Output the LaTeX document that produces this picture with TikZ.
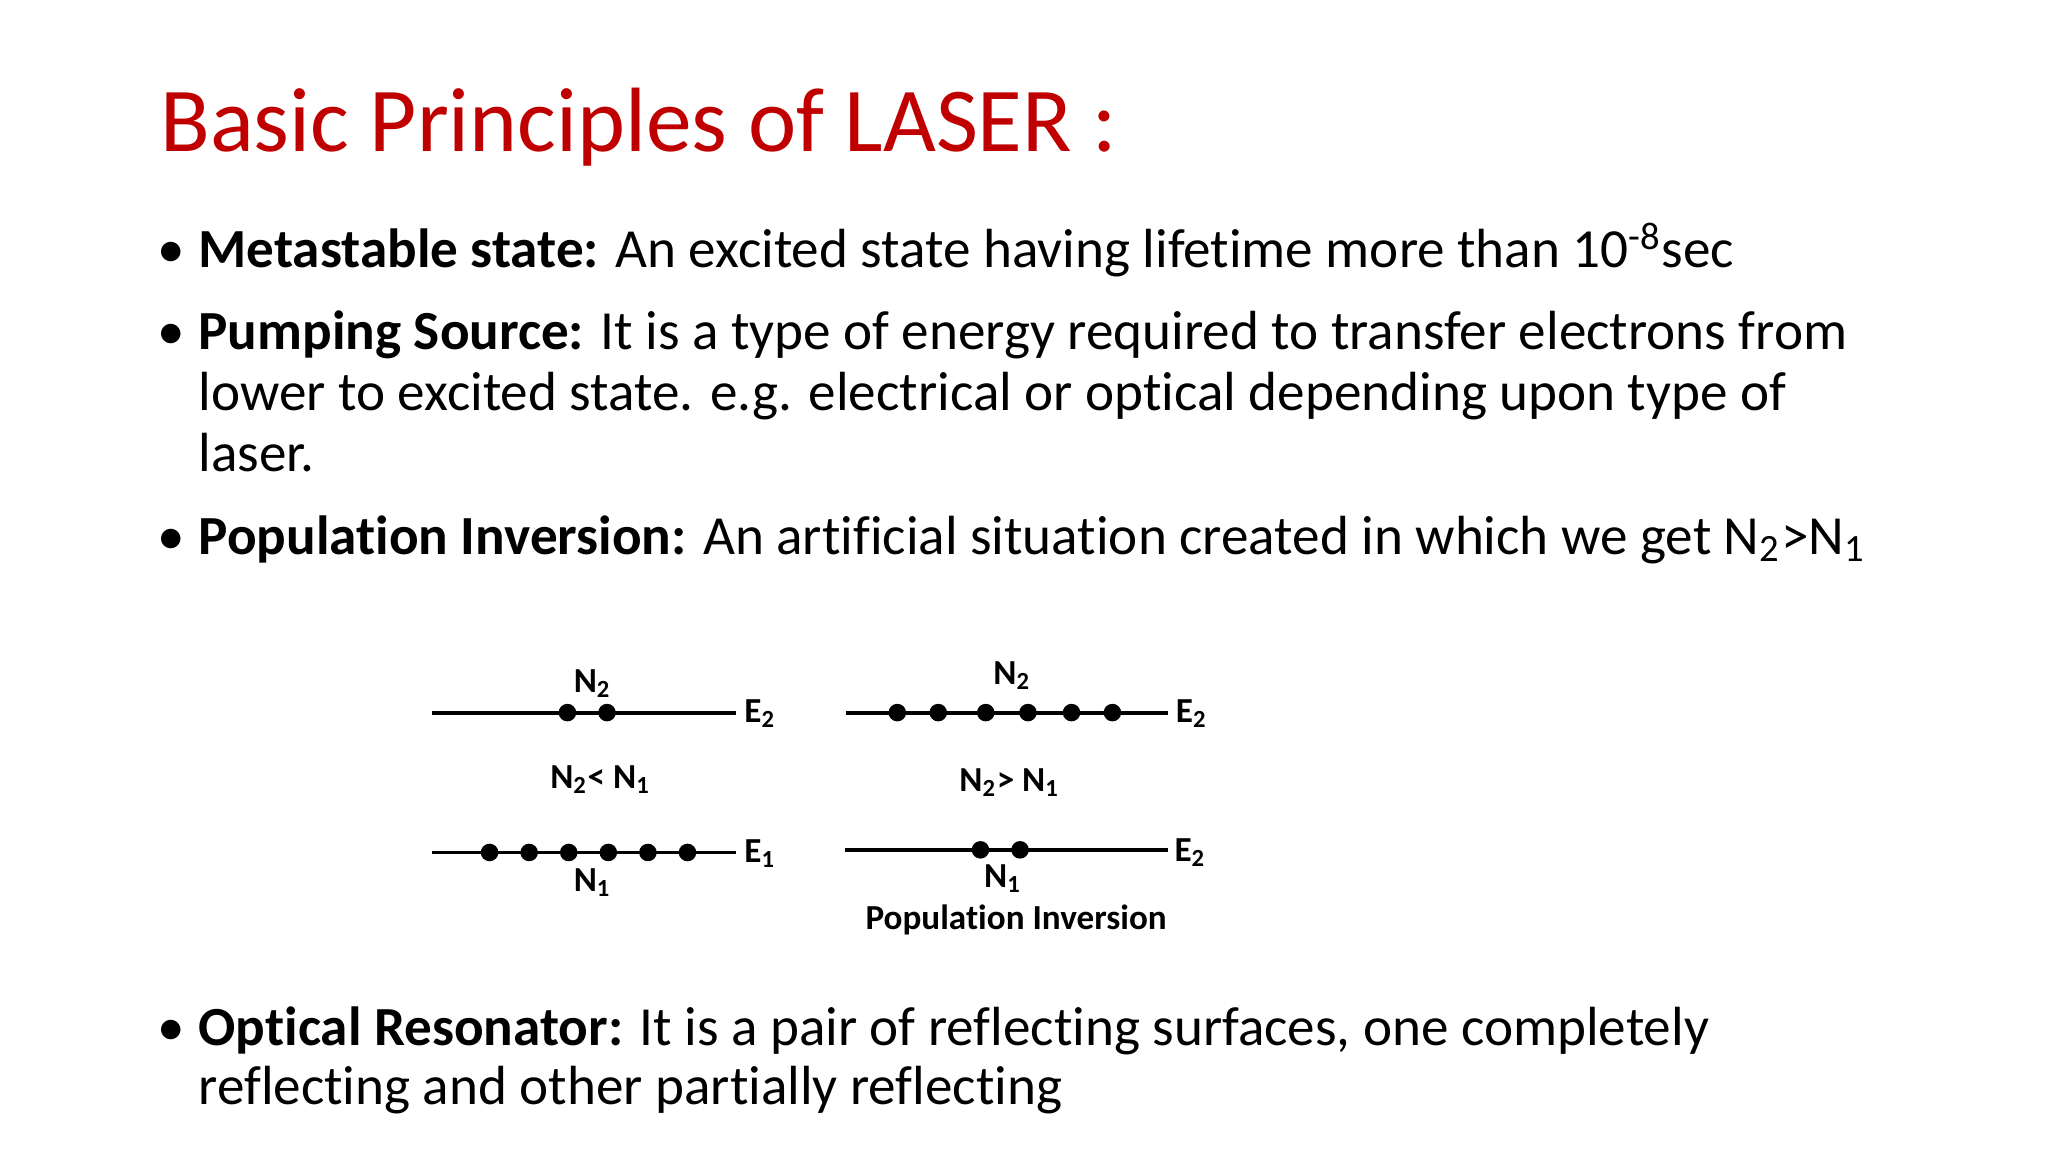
\documentclass[tikz,border=0pt]{standalone}
\usepackage{fontspec}
\setmainfont[Ligatures=NoCommon]{Carlito}
\definecolor{titlered}{HTML}{C00000}
\begin{document}
\begin{tikzpicture}[x=0.013196cm,y=-0.013196cm,
  body/.style={anchor=base west,inner sep=0,font=\fontsize{15.7}{19}\selectfont},
  bul/.style={anchor=base west,inner sep=0,font=\fontsize{15.7}{19}\selectfont},
  lab/.style={inner sep=0,font=\fontsize{10}{12}\selectfont\bfseries},
  lvl/.style={line width=1.1pt},
  dot/.style={circle,fill=black,inner sep=0,minimum size=5pt}]
\useasboundingbox (0,0) rectangle (1552,873);
\node[anchor=base west,inner sep=0,text=titlered,font=\fontsize{26}{30}\selectfont] (title) at (121,115) {Basic Principles of LASER :};
\foreach \y/\n in {203/b1,265/b2,420/b3,792/b4}{\node[bul] (\n) at (119,\y) {\textbullet};}
\node[body] (t1) at (150,203) {\textbf{Metastable state:} An excited state having lifetime more than 10\textsuperscript{-8}sec};
\node[body] (t2) at (150,265) {\textbf{Pumping Source:} It is a type of energy required to transfer electrons from};
\node[body] (t2b) at (150,311) {lower to excited state. e.g. electrical or optical depending upon type of};
\node[body] (t2c) at (150,357) {laser.};
\node[body] (t3) at (150,420) {\textbf{Population Inversion:} An artificial situation created in which we get N\textsubscript{2}>N\textsubscript{1}};
\node[body] (t4) at (150,792) {\textbf{Optical Resonator:} It is a pair of reflecting surfaces, one completely};
\node[body] (t4b) at (150,837) {reflecting and other partially reflecting};
% left diagram
\coordinate (l1a) at (327,540); \coordinate (l1b) at (558,540);
\coordinate (l2a) at (327,646); \coordinate (l2b) at (558,646);
\draw[lvl] (l1a) -- (l1b); \draw[lvl] (l2a) -- (l2b);
\foreach \x in {430,460}{\node[dot] at (\x,540) {};}
\foreach \x in {371,401,431,461,491,521}{\node[dot] at (\x,646) {};}
\node[lab] (ln2) at (449,518) {N\textsubscript{2}};
\node[lab] (le2) at (576,541) {E\textsubscript{2}};
\node[lab] (lrel) at (455,591) {N\textsubscript{2}< N\textsubscript{1}};
\node[lab] (le1) at (576,647) {E\textsubscript{1}};
\node[lab] (ln1) at (449,669) {N\textsubscript{1}};
% right diagram
\coordinate (r1a) at (641,540); \coordinate (r1b) at (885,540);
\coordinate (r2a) at (640,644); \coordinate (r2b) at (885,644);
\draw[lvl] (r1a) -- (r1b); \draw[lvl] (r2a) -- (r2b);
\foreach \x in {680,711,747,779,812,843}{\node[dot] at (\x,540) {};}
\foreach \x in {743,773}{\node[dot] at (\x,644) {};}
\node[lab] (rn2) at (767,512) {N\textsubscript{2}};
\node[lab] (re2) at (903,541) {E\textsubscript{2}};
\node[lab] (rrel) at (765,593) {N\textsubscript{2}> N\textsubscript{1}};
\node[lab] (re2b) at (902,646) {E\textsubscript{2}};
\node[lab] (rn1) at (760,666) {N\textsubscript{1}};
\node[lab] (pi) at (770,697) {Population Inversion};
\end{tikzpicture}
\end{document}
